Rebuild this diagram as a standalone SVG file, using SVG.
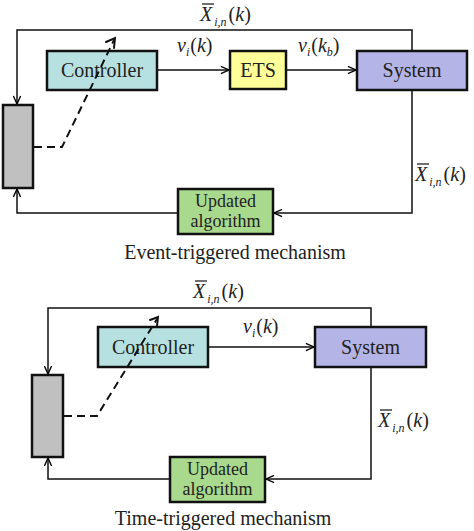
<svg xmlns="http://www.w3.org/2000/svg" width="474" height="531" viewBox="0 0 474 531">
<defs>
<marker id="arr" viewBox="0 0 10 10" refX="10" refY="5" markerWidth="9" markerHeight="9" markerUnits="userSpaceOnUse" orient="auto">
<path d="M1,1 L10,5 L1,9" fill="none" stroke="#000" stroke-width="1.5"/>
</marker>
</defs>
<style>
text{font-family:"Liberation Serif","Times New Roman",serif;fill:#222}
.box{stroke:#111;stroke-width:2.5}
.lbl{font-size:20px}
.small{font-size:18px}
.math{font-size:20px}
.cap{font-size:20px}
.ln{fill:none;stroke:#111;stroke-width:1.5}
.dash{fill:none;stroke:#111;stroke-width:2;stroke-dasharray:8,5}
.head{fill:none;stroke:#111;stroke-width:2;stroke-linecap:round;stroke-linejoin:miter}
.bar{stroke:#222;stroke-width:1.3}
</style>
<rect width="474" height="531" fill="#fff"/>

<!-- Top panel: event-triggered -->
<g id="connectors-top">
<path class="ln" d="M412,90 L412,30 L17,30 L17,104" marker-end="url(#arr)"/>
<path class="ln" d="M157,70 L229,70" marker-end="url(#arr)"/>
<path class="ln" d="M286,70 L356,70" marker-end="url(#arr)"/>
<path class="ln" d="M412,90 L412,213 L274,213" marker-end="url(#arr)"/>
<path class="ln" d="M178,213 L17,213 L17,189" marker-end="url(#arr)"/>
</g>
<g id="ctrl1"><rect class="box" x="47" y="51" width="110" height="39" fill="#b7e1e1"/><text class="lbl" x="102" y="77" text-anchor="middle">Controller</text></g>
<g id="ets"><rect class="box" x="230" y="51" width="56" height="38" fill="#ffff99"/><text class="lbl" x="258" y="77" text-anchor="middle">ETS</text></g>
<g id="sys1"><rect class="box" x="357" y="51" width="110" height="39" fill="#b4b4e6"/><text class="lbl" x="412" y="77" text-anchor="middle">System</text></g>
<g id="gray1"><rect class="box" x="3" y="105" width="30" height="83" fill="#c0c0c0"/></g>
<g id="upd1"><rect class="box" x="178" y="189" width="95" height="45" fill="#a9d98c"/><text class="small" x="225.5" y="207" text-anchor="middle">Updated</text><text class="small" x="225.5" y="227" text-anchor="middle">algorithm</text></g>
<g id="switch-top">
<path class="dash" d="M34,147 L62,147 L114,40"/>
<path class="head" d="M106,42 L115,38 L114,48"/>
</g>
<g id="labels-top">
<text class="math" x="200" y="21"><tspan font-style="italic">X</tspan><tspan font-style="italic" font-size="12" dy="5" dx="2">i,n</tspan><tspan dy="-5" dx="2">(</tspan><tspan font-style="italic">k</tspan><tspan>)</tspan></text>
<line class="bar" x1="202" y1="4" x2="214" y2="4"/>
<text class="math" x="177" y="52"><tspan font-style="italic">v</tspan><tspan font-style="italic" font-size="12" dy="4">i</tspan><tspan dy="-4" dx="1">(</tspan><tspan font-style="italic">k</tspan><tspan>)</tspan></text>
<text class="math" x="298" y="52"><tspan font-style="italic">v</tspan><tspan font-style="italic" font-size="12" dy="4">i</tspan><tspan dy="-4" dx="1">(</tspan><tspan font-style="italic">k</tspan><tspan font-style="italic" font-size="12" dy="4">b</tspan><tspan dy="-4">)</tspan></text>
<text class="math" x="415" y="181"><tspan font-style="italic">X</tspan><tspan font-style="italic" font-size="12" dy="5" dx="2">i,n</tspan><tspan dy="-5" dx="2">(</tspan><tspan font-style="italic">k</tspan><tspan>)</tspan></text>
<line class="bar" x1="417" y1="164" x2="429" y2="164"/>
<text class="cap" x="235" y="259" text-anchor="middle">Event-triggered mechanism</text>
</g>

<!-- Bottom panel: time-triggered -->
<g id="connectors-bottom">
<path class="ln" d="M371,367 L371,308 L48,308 L48,374" marker-end="url(#arr)"/>
<path class="ln" d="M208,347 L314,347" marker-end="url(#arr)"/>
<path class="ln" d="M371,367 L371,479 L266,479" marker-end="url(#arr)"/>
<path class="ln" d="M170,479 L48,479 L48,458" marker-end="url(#arr)"/>
</g>
<g id="ctrl2"><rect class="box" x="98" y="327" width="110" height="40" fill="#b7e1e1"/><text class="lbl" x="153" y="354" text-anchor="middle">Controller</text></g>
<g id="sys2"><rect class="box" x="315" y="327" width="111" height="40" fill="#b4b4e6"/><text class="lbl" x="370.5" y="354" text-anchor="middle">System</text></g>
<g id="gray2"><rect class="box" x="32" y="375" width="31" height="82" fill="#c0c0c0"/></g>
<g id="upd2"><rect class="box" x="170" y="457" width="95" height="45" fill="#a9d98c"/><text class="small" x="217.5" y="475" text-anchor="middle">Updated</text><text class="small" x="217.5" y="495" text-anchor="middle">algorithm</text></g>
<g id="switch-bottom">
<path class="dash" d="M64,416 L97,416 L157,319"/>
<path class="head" d="M150,320 L158,317 L157,326"/>
</g>
<g id="labels-bottom">
<text class="math" x="193" y="298"><tspan font-style="italic">X</tspan><tspan font-style="italic" font-size="12" dy="5" dx="2">i,n</tspan><tspan dy="-5" dx="2">(</tspan><tspan font-style="italic">k</tspan><tspan>)</tspan></text>
<line class="bar" x1="195" y1="281" x2="207" y2="281"/>
<text class="math" x="243" y="333"><tspan font-style="italic">v</tspan><tspan font-style="italic" font-size="12" dy="4">i</tspan><tspan dy="-4" dx="1">(</tspan><tspan font-style="italic">k</tspan><tspan>)</tspan></text>
<text class="math" x="378" y="427"><tspan font-style="italic">X</tspan><tspan font-style="italic" font-size="12" dy="5" dx="2">i,n</tspan><tspan dy="-5" dx="2">(</tspan><tspan font-style="italic">k</tspan><tspan>)</tspan></text>
<line class="bar" x1="380" y1="410" x2="392" y2="410"/>
<text class="cap" x="223" y="525" text-anchor="middle">Time-triggered mechanism</text>
</g>
</svg>
